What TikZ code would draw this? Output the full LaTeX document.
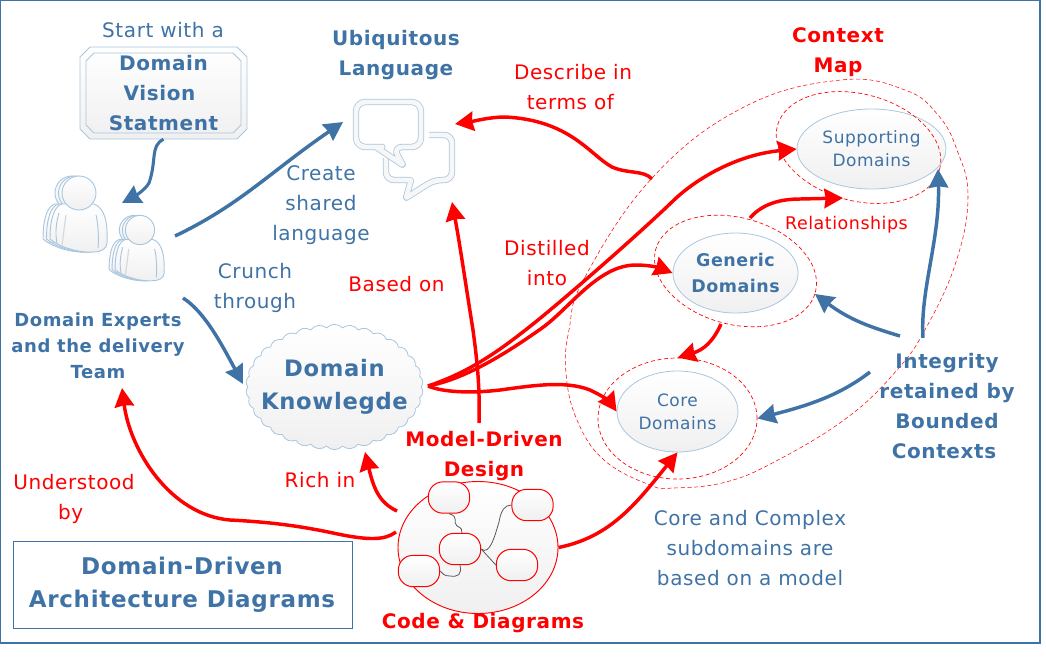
\documentclass[tikz,border=0pt]{standalone}
\usepackage{fontspec}
\setmainfont[LetterSpace=3]{DejaVu Sans}
\usetikzlibrary{arrows.meta,shapes.geometric,shapes.symbols}
\definecolor{ddblue}{HTML}{3F73A6}
\definecolor{ddpale}{HTML}{A9C6E0}
\definecolor{ddred}{HTML}{FF0000}
\newcommand{\fs}[2]{\fontsize{#1}{#2}\selectfont}
\tikzset{
  bluearrow/.style={draw=ddblue,line width=2.6pt,-{Stealth[length=14pt,width=14.5pt,inset=1pt]}},
  redarrow/.style={draw=ddred,line width=2.6pt,-{Stealth[length=14pt,width=14.5pt,inset=1pt]}},
  softfill/.style={top color=white,bottom color=black!6},
  domainoval/.style={ellipse,draw=ddpale,line width=.6pt,softfill,inner sep=0pt},
  zoneoval/.style={ellipse,draw=ddred,line width=.5pt,densely dashed,inner sep=0pt},
  blueplain/.style={text=ddblue,align=center,inner sep=0pt,font=\fs{15}{22.5}},
  bluebold/.style={text=ddblue,align=center,inner sep=0pt,font=\fs{15}{22.5}\bfseries},
  redplain/.style={text=ddred,align=center,inner sep=0pt,font=\fs{15}{22.5}},
  redbold/.style={text=ddred,align=center,inner sep=0pt,font=\fs{15}{22.5}\bfseries},
  chipnode/.style={rectangle,rounded corners=11pt,draw=ddred,line width=.75pt,softfill,minimum width=31pt,minimum height=23.5pt,inner sep=0pt},
  chiplink/.style={draw=black!65,line width=.6pt},
  bubbleline/.style={draw=ddpale,line width=.6pt,double=black!3,double distance=3.6pt,line join=round},
  personline/.style={draw=ddpale,line width=.7pt},
  person/.pic={
    \path[personline,top color=white,bottom color=black!6]
      (-17,11) .. controls (-24,13) and (-29,24) .. (-29,46)
      .. controls (-20,54) and (0,60) .. (14,59)
      .. controls (22,59) and (28,56) .. (28,50)
      .. controls (29,30) and (26,15) .. (15,11) -- cycle;
    \path[personline] (-20,20) .. controls (-23,30) and (-24,40) .. (-22,50);
    \path[personline] (17,22) .. controls (19,30) and (20,44) .. (19,55);
    \path[draw=black!15,line width=.9pt] (-13,22) -- (-17,52);
    \path[personline,top color=white,bottom color=black!6] (0,0) circle[radius=17];
  }
}
\begin{document}
\begin{tikzpicture}[x=.75pt,y=-.75pt]
\path[use as bounding box] (0,0) rectangle (1046,669);
\node[draw=ddblue,line width=1pt,rectangle,inner sep=0pt,minimum width=780pt,minimum height=482.25pt] (frame) at (520,321.5) {};
\node[draw=ddblue,line width=.75pt,rectangle,inner sep=0pt,minimum width=254pt,minimum height=65pt,bluebold,font=\fs{17.25}{24.75}\bfseries] (title) at (183,585) {};
\node[bluebold,font=\fs{17.25}{24.75}\bfseries] (titletext) at (182,585) {Domain-Driven\\Architecture Diagrams};

% vision box
\draw[personline,softfill] (90,47) -- (237,47) -- (247,57) -- (247,129) -- (237,139) -- (90,139) -- (80,129) -- (80,57) -- cycle;
\draw[personline] (94,53) -- (233,53) -- (241,61) -- (241,125) -- (233,133) -- (94,133) -- (86,125) -- (86,61) -- cycle;
\node[inner sep=0pt,minimum width=125pt,minimum height=69pt,bluebold] (vision) at (163.5,93) {Domain\\Vision\kern6pt\\Statment};
\node[blueplain] (start) at (163,30.5) {Start with a};

% people
\pic at (72,193) {person};
\pic at (75.5,193) {person};
\pic at (79,193) {person};
\pic[scale=.86] at (134,230) {person};
\pic[scale=.86] at (137,230) {person};
\pic[scale=.86] at (140,230) {person};

% speech bubbles
\draw[bubbleline,rounded corners=6pt] (429,135) -- (452,135) -- (452,180) -- (434,180) [rounded corners=.5pt] -- (406,198) -- (411,180) [rounded corners=6pt] -- (386,180) -- (386,158);
\draw[bubbleline,rounded corners=7pt] (383,147) -- (356,147) -- (356,102) -- (421,102) -- (421,147) -- (393,147) [rounded corners=.5pt] -- (403,165) -- (376,147) -- cycle;

% cloud
\node[cloud,cloud puffs=34,cloud puff arc=95,aspect=1.4,draw=ddpale,line width=.6pt,softfill,minimum width=133pt,minimum height=94pt,inner sep=0pt] (cloud) at (334.5,387) {};
\node[bluebold,font=\fs{17}{24.75}\bfseries] (cloudtext) at (334.5,387) {Domain\\Knowlegde};

% domain ovals
\node[domainoval,minimum width=111.75pt,minimum height=60pt,text=ddblue,align=center,font=\fs{12.75}{17.25}] (supporting) at (871.5,149) {Supporting\\Domains};
\node[domainoval,minimum width=90.75pt,minimum height=60pt,text=ddblue,align=center,font=\fs{13.1}{19.5}\bfseries] (generic) at (735.5,273) {Generic\\Domains};
\node[domainoval,minimum width=90.75pt,minimum height=60.75pt,text=ddblue,align=center,font=\fs{12.75}{17.25}] (core) at (677.5,411.5) {Core\\Domains};

% zones
\draw[ddred,line width=.4pt,densely dashed] plot[smooth cycle,tension=.7] coordinates {(569,330) (585,277) (653,177) (744,107) (841,80) (905,90) (938,115) (957,150) (968,197) (956,262) (926,328) (897,370) (848,417) (778,460) (726,482) (674,488) (650,485) (604,460) (577,420) (566,373)};
\node[zoneoval,rotate=-15,minimum width=126pt,minimum height=80pt] (supportingzone) at (858.5,147.5) {};
\node[zoneoval,rotate=-15,minimum width=124pt,minimum height=80pt] (genericzone) at (735.5,271) {};
\node[zoneoval,minimum width=119.25pt,minimum height=90.75pt] (corezone) at (677.5,418.5) {};

% code diagram
\node[ellipse,draw=ddred,line width=.7pt,softfill,minimum width=120pt,minimum height=99pt,inner sep=0pt] (code) at (478,547.5) {};
\node[chipnode] (chipa) at (449,497.5) {};
\node[chipnode] (chipb) at (532.5,505) {};
\node[chipnode] (chipc) at (460,549) {};
\node[chipnode] (chipd) at (517,565) {};
\node[chipnode] (chipe) at (419,571) {};
\draw[chiplink] (chipa.south) .. controls (460,517) and (452,522) .. (457,526) .. controls (462,528) and (462,530) .. (462,533);
\draw[chiplink] (chipc.east) .. controls (490,556) and (495,535) .. (499,522) .. controls (501,510) and (505,505) .. (chipb.west);
\draw[chiplink] (chipc.east) -- (chipd.west);
\draw[chiplink] (chipc.south) .. controls (462,575) and (458,577) .. (450,576) .. controls (445,576) and (442,574) .. (chipe.east);

% ends of connectors
\coordinate (bubbleE) at (455,124);
\coordinate (bubbleW) at (343,122);
\coordinate (bubbleS) at (452,202);
\coordinate (peopleR) at (175,236);
\coordinate (peopleN) at (122,203);
\coordinate (peopleS) at (183,298);
\coordinate (cloudR) at (428,386);
\coordinate (cloudW) at (243,384);
\coordinate (cloudS) at (365,452);
\coordinate (mapTop) at (652,179);
\coordinate (genericTop) at (750,218);
\coordinate (supportZoneS) at (843,198);
\coordinate (genericBottom) at (721,324);
\coordinate (modelFoot) at (479,423);
\coordinate (codeNW) at (397,511);
\coordinate (codeW) at (396,532);
\coordinate (teamS) at (122,388);
\coordinate (integrityA) at (900,336);
\coordinate (integrityB) at (923,338);
\coordinate (integrityC) at (870,372);
\coordinate (genericZoneE) at (815,294);
\coordinate (supportingS) at (938,169);

% blue connectors
\draw[bluearrow,line width=2.3pt] (vision.south) .. controls (150,146) and (157,160) .. (149,183) .. controls (145,190) and (135,196) .. (peopleN);
\draw[bluearrow] (peopleR) .. controls (240,205) and (270,172) .. (bubbleW);
\draw[bluearrow] (peopleS) .. controls (205,312) and (222,345) .. (cloudW);
\draw[bluearrow] (integrityA) .. controls (870,327) and (850,320) .. (genericZoneE);
\draw[bluearrow] (integrityB) .. controls (920,290) and (940,240) .. (supportingS);
\draw[bluearrow] (integrityC) .. controls (840,395) and (810,405) .. (corezone.east);

% red connectors
\draw[redarrow] (mapTop) .. controls (644,170) and (628,174) .. (612,167) .. controls (590,155) and (570,120) .. (505,117) .. controls (490,117) and (475,121) .. (bubbleE);
\draw[redarrow] (cloudR) .. controls (470,372) and (500,350) .. (528,328) .. controls (560,303) and (640,233) .. (674,200) .. controls (695,180) and (735,155) .. (supporting.west);
\draw[redarrow] (cloudR) .. controls (470,378) and (515,347) .. (542,328) .. controls (570,308) and (598,265) .. (636,265) .. controls (650,265) and (660,268) .. (generic.west);
\draw[redarrow] (cloudR) .. controls (445,393) and (475,393) .. (500,390) .. controls (530,386) and (565,380) .. (590,390) .. controls (603,396) and (610,402) .. (core.west);
\draw[redarrow] (genericTop) .. controls (762,204) and (780,199) .. (800,199) -- (supportZoneS);
\draw[redarrow] (genericBottom) .. controls (713,342) and (703,350) .. (corezone.north);
\draw[redarrow] (modelFoot) .. controls (480,385) and (477,360) .. (473,330) .. controls (465,280) and (460,245) .. (bubbleS);
\draw[redarrow] (codeNW) .. controls (380,503) and (374,490) .. (cloudS);
\draw[redarrow] (codeW) .. controls (385,540) and (370,541) .. (333,533) .. controls (300,526) and (270,522) .. (230,520) .. controls (170,515) and (130,450) .. (teamS);
\draw[redarrow] (code.east) .. controls (610,537) and (635,505) .. (core.south);

% labels
\node[bluebold] (ubiquitous) at (396,55) {Ubiquitous\\Language};
\node[blueplain] (shared) at (321,205) {Create\\shared\\language};
\node[blueplain] (crunch) at (255,288) {Crunch\\through};
\node[bluebold,font=\fs{13.5}{19.5}\bfseries] (team) at (98,346) {Domain Experts\\and the delivery\\Team};
\node[bluebold] (integrity) at (947,406.5) {Integrity\\retained by\\Bounded\\Contexts\kern4.5pt};
\node[blueplain] (complex) at (750,548) {Core and Complex\\subdomains are\\based on a model};
\node[redbold] (context) at (838,52) {Context\\Map};
\node[redplain] (describe) at (573,87) {Describe in\\terms of\kern4pt};
\node[redplain] (distilled) at (547,263) {Distilled\\into};
\node[redplain,font=\fs{13.1}{19.5}] (relationships) at (846.5,225) {Relationships};
\node[redplain] (based) at (396.5,284) {Based on};
\node[redbold] (model) at (484,456) {Model-Driven\\Design};
\node[redplain] (rich) at (320,480) {Rich in};
\node[redplain] (understood) at (74,499) {Understood\\by\kern5pt};
\node[redbold] (diagrams) at (483,623.5) {Code \& Diagrams};
\end{tikzpicture}
\end{document}
